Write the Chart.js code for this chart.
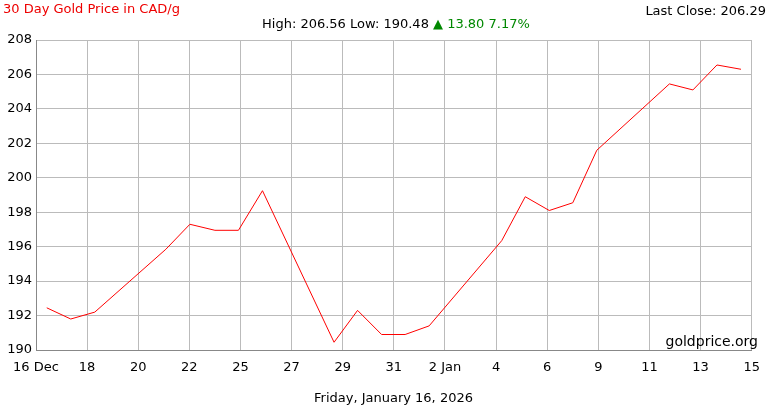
<!DOCTYPE html>
<html>
<head>
<script src="https://cdn.jsdelivr.net/npm/chart.js@4/dist/chart.umd.min.js"></script>
<style>
body{margin:0;background:#fff;font-family:"DejaVu Sans",Verdana,sans-serif;}
#wrap{position:relative;width:770px;height:410px;}
.t{position:absolute;font-size:13px;white-space:nowrap;}
</style>
</head>
<body>
<div id="wrap">
<canvas id="gold_chart" width="770" height="410"></canvas>
<div class="t" style="left:3px;top:1px;color:#e00;">30 Day Gold Price in CAD/g</div>
<div class="t" style="right:4px;top:3px;color:#000;">Last Close: 206.29</div>
<div class="t" style="left:262px;top:16px;color:#000;">High: 206.56 Low: 190.48 <span style="color:#080">&#9650; 13.80 7.17%</span></div>
<div class="t" style="right:12px;top:333px;color:#000;font-size:14px;">goldprice.org</div>
<div class="t" style="left:314px;top:390px;color:#000;">Friday, January 16, 2026</div>
</div>
<script>
//tick labels, one per gridline
const tick_labels = ['16 Dec','18','20','22','25','27','29','31','2 Jan','4','6','9','11','13','15'];
//position of each close along the tick index axis
const day_pos = [0.21,0.68,1.15,2.54,3.01,3.50,3.96,4.43,5.83,6.29,6.76,7.22,7.69,9.11,9.57,10.04,10.50,10.97,12.39,12.85,13.32,13.79];
const close_price = [192.45,191.8,192.2,195.85,197.3,196.95,196.95,199.25,190.45,192.3,190.9,190.9,191.4,196.35,198.9,198.1,198.55,201.6,205.45,205.1,206.55,206.3];

const points = day_pos.map((x, i) => ({x: x, y: close_price[i]}));
const font = {family: 'DejaVu Sans', size: 13};

new Chart('gold_chart', {
    type: 'line',
    data: {
        datasets: [{
            data: points,
            borderColor: '#f00',
            borderWidth: 1,
            pointRadius: 0,
            fill: false,
            tension: 0
        }]
    },
    options: {
        responsive: false,
        animation: false,
        layout: {padding: {left: 0, right: 7, top: 40, bottom: 0}},
        plugins: {legend: {display: false}, tooltip: {enabled: false}},
        scales: {
            x: {
                type: 'linear', min: 0, max: 14,
                afterFit: (s) => { s.height = 60; },
                grid: {color: '#bbb', tickLength: 0},
                border: {color: '#888'},
                ticks: {stepSize: 1, color: '#000', font: font, maxRotation: 0, padding: 10,
                    callback: (v) => tick_labels[v]}
            },
            y: {
                min: 190, max: 208,
                afterFit: (s) => { s.width = 36; },
                grid: {color: '#bbb', tickLength: 0},
                border: {color: '#888'},
                ticks: {stepSize: 2, color: '#000', font: font, padding: 4}
            }
        }
    }
});
</script>
</body>
</html>
